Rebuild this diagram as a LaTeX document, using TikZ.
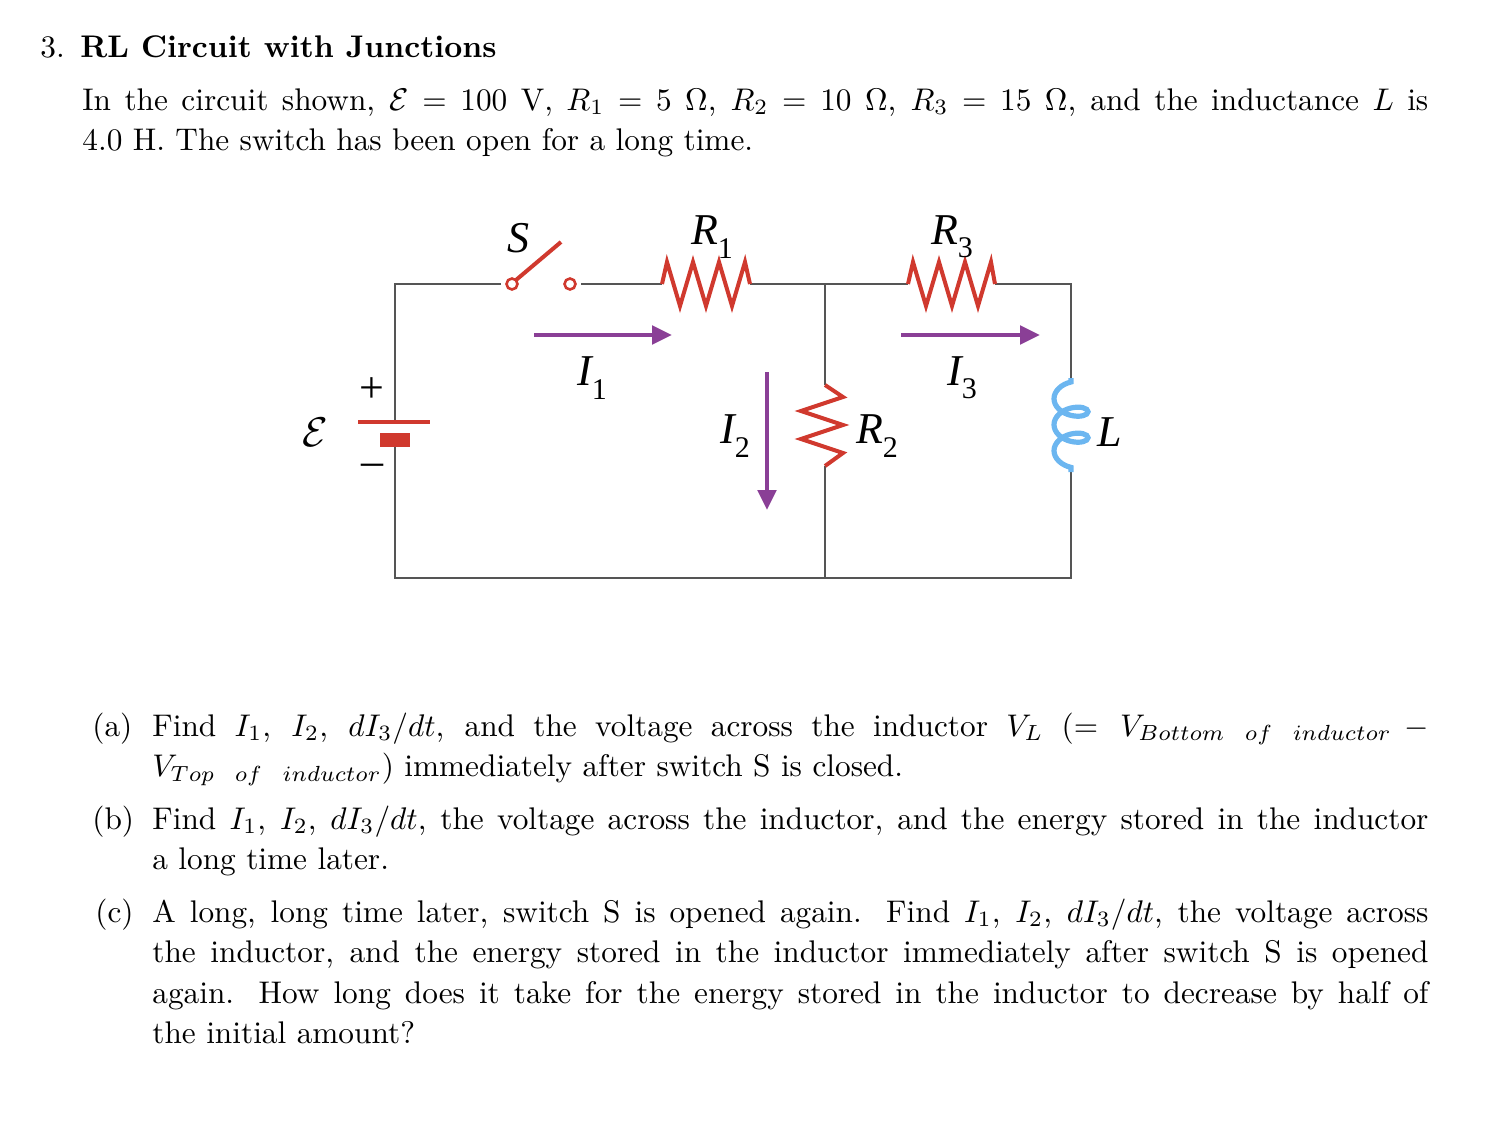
\documentclass[tikz,border=0pt]{standalone}
\usepackage{fontspec}
\usetikzlibrary{decorations.pathmorphing,arrows.meta}
\newfontfamily\tnr{Liberation Serif}
\definecolor{cred}{HTML}{D0392E}
\definecolor{cpur}{HTML}{8A3F96}
\definecolor{cblu}{HTML}{6CB6F0}
\definecolor{cwire}{HTML}{555555}
\newcommand{\subn}[1]{\raisebox{-0.3em}{\upshape\fontsize{15}{15}\selectfont #1}}
\newcommand{\bigtext}[2]{\scalebox{1.565}{\parbox[t]{#1}{\fontsize{10}{12.94}\selectfont #2}}}
\begin{document}
\begin{tikzpicture}[x=0.5pt,y=-0.5pt,
  wire/.style={cwire,line width=0.7pt},
  res/.style={cred,line width=2pt,line join=miter},
  cur/.style={cpur,line width=2.4pt,-{Triangle[length=10pt,width=9pt]}},
  lab/.style={font=\tnr\itshape\fontsize{22}{22}\selectfont,inner sep=0pt},
  txt/.style={inner sep=0pt,anchor=base west}]
\useasboundingbox (0,0) rectangle (1512,1140);
% text
\node[txt] (title) at (40,57) {\scalebox{1.565}{\fontsize{10}{12}\selectfont 3.\hspace{0.5em}\textbf{RL Circuit with Junctions}}};
\node[txt] (intro) at (82,110) {\bigtext{430pt}{In the circuit shown, $\mathcal{E}=100$ V, $R_1=5\ \Omega$, $R_2=10\ \Omega$, $R_3=15\ \Omega$, and the inductance $L$ is\linebreak 4.0 H. The switch has been open for a long time.}};
\node[txt] (pa) at (92,736) {\scalebox{1.565}{\fontsize{10}{12}\selectfont (a)}};
\node[txt] (ta) at (152,736) {\bigtext{407.7pt}{Find $I_1$, $I_2$, $dI_3/dt$, and the voltage across the inductor $V_L$ $(=V_{Bottom\ \ of\ \ inductor}-V_{Top\ \ of\ \ inductor})$ immediately after switch S is closed.}};
\node[txt] (pb) at (92,829) {\scalebox{1.565}{\fontsize{10}{12}\selectfont (b)}};
\node[txt] (tb) at (152,829) {\bigtext{407.7pt}{Find $I_1$, $I_2$, $dI_3/dt$, the voltage across the inductor, and the energy stored in the inductor\linebreak a long time later.}};
\node[txt] (pc) at (95,922) {\scalebox{1.565}{\fontsize{10}{12}\selectfont (c)}};
\node[txt] (tc) at (152,922) {\bigtext{407.7pt}{A long, long time later, switch S is opened again. Find $I_1$, $I_2$, $dI_3/dt$, the voltage across\linebreak the inductor, and the energy stored in the inductor immediately after switch S is opened\linebreak again. How long does it take for the energy stored in the inductor to decrease by half of\linebreak the initial amount?}};
% circuit coordinates
\coordinate (tl) at (395,284);
\coordinate (bl) at (395,578);
\coordinate (tm) at (825,284);
\coordinate (bm) at (825,578);
\coordinate (tr) at (1071,284);
\coordinate (br) at (1071,578);
\coordinate (batT) at (395,422);
\coordinate (batB) at (395,440);
\coordinate (s1) at (512,284);
\coordinate (s2) at (570,284);
\coordinate (r1a) at (662,284);
\coordinate (r1b) at (750,284);
\coordinate (r3a) at (908,284);
\coordinate (r3b) at (995,284);
\coordinate (r2a) at (825,385);
\coordinate (r2b) at (825,466);
\coordinate (la) at (1071,378);
\coordinate (lb) at (1071,472);
% wires
\draw[wire] (batT) -- (tl) -- ([xshift=-5.5]s1);
\draw[wire] ([xshift=5.5]s2) -- (r1a);
\draw[wire] (r1b) -- (r3a);
\draw[wire] (r3b) -- (tr) -- (la);
\draw[wire] (lb) -- (br) -- (bl) -- (batB);
\draw[wire] (tm) -- (r2a);
\draw[wire] (r2b) -- (bm);
% switch
\draw[cred,line width=1.3pt] (s1) circle[radius=5.5] (s2) circle[radius=5.5];
\draw[cred,line width=2pt] ([shift={(4,-4)}]s1) -- (561,242);
% resistors
\draw[res] (r1a) -- ++(5,-22) -- ++(13,44) -- ++(13,-44) -- ++(13,44) -- ++(13,-44) -- ++(13,44) -- ++(13,-44) -- ++(5,22) -- (r1b);
\draw[res] (r3a) -- ++(5,-22) -- ++(13,44) -- ++(13,-44) -- ++(13,44) -- ++(13,-44) -- ++(13,44) -- ++(13,-44) -- ++(4,22) -- (r3b);
\draw[res] (r2a) -- ++(18,12) -- ++(-42,14) -- ++(42,14) -- ++(-42,14) -- ++(42,14) -- ++(-18,13) -- (r2b);
% battery
\draw[cred,line width=1.6pt] (358,422) -- (430,422);
\draw[cred,line width=7pt] (380,440) -- (410,440);
% inductor
\draw[cblu,line width=2.6pt,decoration={coil,amplitude=8.5pt,segment length=13pt,aspect=0.6,pre length=2pt,post length=2pt,mirror},decorate] (la) -- (lb);
% currents
\draw[cur] (534,335) -- (672,335);
\draw[cur] (901,335) -- (1040,335);
\draw[cur] (767,372) -- (767,510);
% labels
\node[lab] (lS) at (518,238) {S};
\node[lab] (lR1) at (712,237) {R\subn{1}};
\node[lab] (lR3) at (952,237) {R\subn{3}};
\node[lab] (lI1) at (592,378) {I\subn{1}};
\node[lab] (lI3) at (962,378) {I\subn{3}};
\node[lab] (lI2) at (735,436) {I\subn{2}};
\node[lab] (lR2) at (877,436) {R\subn{2}};
\node[lab] (lL) at (1110,432) {L};
\node[lab] (lE) at (315,432) {$\mathcal{E}$};
\node[lab,font=\tnr\fontsize{22}{22}\selectfont] (plus) at (372,390) {+};
\node[lab,font=\tnr\fontsize{22}{22}\selectfont] (minus) at (372,470) {\textendash};
\end{tikzpicture}
\end{document}
